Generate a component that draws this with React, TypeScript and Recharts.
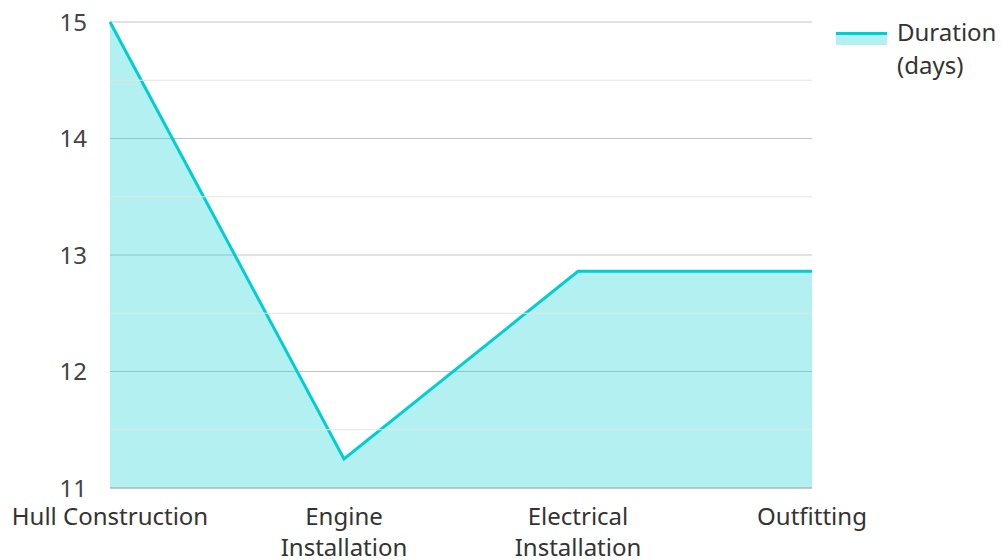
import { AreaChart, Area, XAxis, YAxis, CartesianGrid, ReferenceLine } from 'recharts'

const stages = ['Hull Construction', 'Engine Installation', 'Electrical Installation', 'Outfitting']
const durations = [15, 11.25, 12.86, 12.86]
const yTicks = [11, 12, 13, 14, 15]
const minorLines = [11.5, 12.5, 13.5, 14.5]

const data = stages.map((stage, i) => ({ stage, duration: durations[i] }))

const TEAL = '#00CED1'
const FONT = '"Noto Sans", "Open Sans", sans-serif'
const FONT_SIZE = 24
const MAX_LABEL_WIDTH = 204

let ctx: CanvasRenderingContext2D | null = null
function measure(s: string) {
  if (!ctx) ctx = document.createElement('canvas').getContext('2d')
  if (!ctx) return s.length * 11
  ctx.font = `${FONT_SIZE}px ${FONT}`
  return ctx.measureText(s).width
}

// greedy word wrap
function wrap(label: string) {
  const lines: string[] = []
  let cur = ''
  for (const w of label.split(' ')) {
    const next = cur ? cur + ' ' + w : w
    if (cur && measure(next) > MAX_LABEL_WIDTH) {
      lines.push(cur)
      cur = w
    } else cur = next
  }
  if (cur) lines.push(cur)
  return lines
}

function StageTick(props: any) {
  const { x, y, payload } = props
  const lines = wrap(String(payload.value))
  return (
    <text x={x} y={y + 12} textAnchor="middle" fontSize={FONT_SIZE} fontFamily={FONT} fill="#333">
      {lines.map((l, i) => (
        <tspan key={i} x={x} dy={i === 0 ? '0.71em' : 31}>{l}</tspan>
      ))}
    </text>
  )
}

function LegendBox() {
  return (
    <div style={{ position: 'absolute', top: 15, left: 836, display: 'flex', alignItems: 'flex-start',
      fontFamily: FONT, fontSize: FONT_SIZE, color: '#333', lineHeight: '33px' }}>
      <div style={{ width: 51, marginTop: 17, marginRight: 10 }}>
        <div style={{ height: 3, background: TEAL }} />
        <div style={{ height: 10, background: TEAL, opacity: 0.3 }} />
      </div>
      <div style={{ width: 110 }}>Duration (days)</div>
    </div>
  )
}

export default function App() {
  return (
    <div style={{ position: 'absolute', left: 0, top: 0, width: 1002, height: 560, background: '#fff' }}>
      <AreaChart width={1002} height={560} data={data} margin={{ top: 22, right: 190, left: 0, bottom: 0 }}>
        <CartesianGrid vertical={false} stroke="#c4c4c4" />
        {minorLines.map(v => (
          <ReferenceLine key={v} y={v} stroke="#e4e4e4" strokeWidth={1} />
        ))}
        <XAxis dataKey="stage" height={72} tickLine={false} axisLine={{ stroke: '#b0b0b0' }}
          interval={0} tick={<StageTick />} />
        <YAxis width={110} domain={[11, 15]} ticks={yTicks} axisLine={false} tickLine={false}
          tickSize={0} tickMargin={23} tick={{ fontSize: FONT_SIZE, fill: '#444', fontFamily: FONT }} />
        <Area type="linear" dataKey="duration" stroke={TEAL} strokeWidth={3} fill={TEAL} fillOpacity={0.3}
          dot={false} activeDot={false} isAnimationActive={false} />
      </AreaChart>
      <LegendBox />
    </div>
  )
}
